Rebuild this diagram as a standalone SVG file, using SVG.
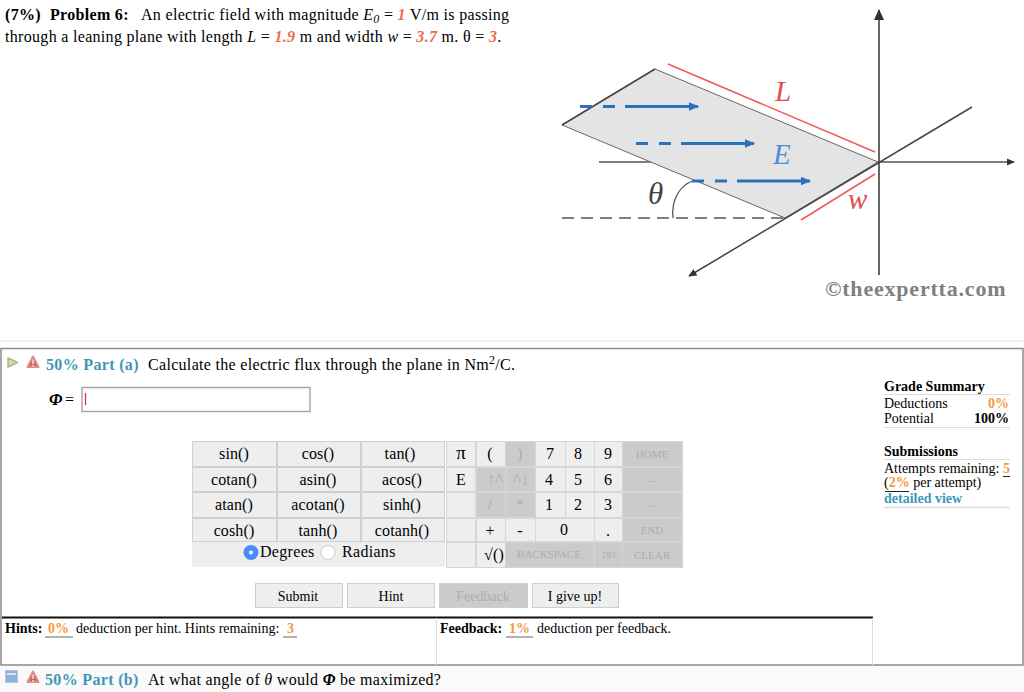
<svg xmlns="http://www.w3.org/2000/svg" width="1024" height="692" viewBox="0 0 1024 692">
<style>
text{font-family:"Liberation Serif","Times New Roman",serif;fill:#000}
.t{font-size:16px;letter-spacing:.31px}
.s{font-size:14px}
.o{fill:#f8983a;font-weight:bold}
.r{fill:#ee6a4d;font-weight:bold;font-style:italic}
.i{font-style:italic}
.b{font-weight:bold}
.p{fill:#3f97b8;font-weight:bold;font-size:16px;letter-spacing:.33px}
.k{font-size:16px;text-anchor:middle;letter-spacing:.12px}
.d{font-size:11px;text-anchor:middle;fill:#adadad}
.c{fill:#eeeeee}
.g{fill:#cbcbcb}
.ax{stroke:#555;stroke-width:1.5;fill:none}
.bl{stroke:#2a72bd;stroke-width:3;fill:none}
.rd{stroke:#ee5a5a;stroke-width:1.5;fill:none}
.rule{stroke:#ddd;stroke-width:1}
</style>
<defs>
<marker id="ah" markerWidth="8" markerHeight="8" refX="5" refY="2.500" orient="auto"><path d="M0,0L5.500,2.500L0,5z" fill="#333"/></marker>
<marker id="ab" markerWidth="5" markerHeight="5" refX="3" refY="1.400" orient="auto"><path d="M0,0L3.400,1.400L0,2.800z" fill="#2a72bd"/></marker>
</defs>
<rect width="1024" height="692" fill="#fff"/>
<g id="problem">
<text class="t b" x="5" y="20">(7%)</text>
<text class="t b" x="50" y="20">Problem 6:</text>
<text class="t" x="141" y="20">An electric field with magnitude <tspan class="i">E</tspan><tspan class="i" font-size="12" dy="3">0</tspan><tspan dy="-3"> = </tspan><tspan class="r">1</tspan> V/m is passing</text>
<text class="t" x="5" y="42">through a leaning plane with length <tspan class="i">L</tspan> = <tspan class="r">1.9</tspan> m and width <tspan class="i">w</tspan> = <tspan class="r">3.7</tspan> m. θ = <tspan class="r">3</tspan>.</text>
</g>
<g id="figure">
<path d="M599,162H660" class="ax"/>
<path d="M655,69L562,125L785,218L878,162Z" fill="#e5e4e4" stroke="#666" stroke-width="1"/>
<path d="M562,125L655,69" stroke="#444" stroke-width="1.5" fill="none"/>
<path d="M879,275V10" style="stroke:#666;stroke-width:2;fill:none" marker-end="url(#ah)"/>
<path d="M878,162H1014" class="ax" marker-end="url(#ah)"/>
<path d="M972,107L689,276" stroke="#444" stroke-width="1.5" fill="none" marker-end="url(#ah)"/>
<path d="M562,218H785" stroke="#555" stroke-width="1.3" stroke-dasharray="12,7" fill="none"/>
<path d="M673,218C671,200 680,185 693,181" stroke="#555" stroke-width="1.3" fill="none"/>
<path d="M668,64L875,152M875,174L801,220" class="rd"/>
<path d="M580,106.500H592M603,106.500H615M625,106.500H698" class="bl" marker-end="url(#ab)"/>
<path d="M636,143.500H648M659,143.500H671M681,143.500H754" class="bl" marker-end="url(#ab)"/>
<path d="M692,181H704M715,181H727M737,181H810" class="bl" marker-end="url(#ab)"/>
<text x="775" y="101" font-size="29" class="i" style="fill:#e24a4a">L</text>
<text x="773" y="164" font-size="29" class="i" style="fill:#4a8fcf">E</text>
<text x="848" y="209" font-size="29" class="i" style="fill:#e24a4a">w</text>
<text x="648" y="204" font-size="31" class="i" style="fill:#444">θ</text>
<text x="825" y="296" font-size="22" class="b" style="fill:#808080;letter-spacing:.8px">©theexpertta.com</text>
</g>
<path d="M0,341H1024" stroke="#e2e2e2" stroke-width="1"/>
<g id="part-a">
<rect x="1" y="348.500" width="1022" height="316.500" fill="none" stroke="#8a8a8a" stroke-width="1.500"/>
<path d="M8,358L17.500,362.500L8,367Z" fill="#cfe3a6" stroke="#a8b88a" stroke-width="1.500" stroke-linejoin="round"/>
<path d="M33,356.500L38.500,367H27.500Z" fill="#d9605c" stroke="#d98f8f" stroke-width="2" stroke-linejoin="round"/>
<path d="M33,359.500V364M33,365V366.500" stroke="#fff" stroke-width="1.200"/>
<text class="p" x="46" y="370">50% Part (a)</text>
<text class="t" x="148" y="370">Calculate the electric flux through the plane in Nm<tspan font-size="12" dy="-6">2</tspan><tspan dy="6">/C.</tspan></text>
<text class="i b" font-size="17" x="49" y="405">Φ</text><text class="t" x="65" y="405">=</text>
<rect x="82" y="387.500" width="228" height="24" fill="#fff" stroke="#a9a9a9" stroke-width="1.500"/>
<path d="M85.500,393V405" stroke="#e22" stroke-width="1.200"/>
</g>
<g id="functions">
<rect x="192" y="441" width="253" height="126" fill="#cfcfcf"/>
<rect class="c" x="193" y="442" width="83" height="24"/><rect class="c" x="278" y="442" width="82" height="24"/><rect class="c" x="362" y="442" width="82" height="24"/>
<rect class="c" x="193" y="468" width="83" height="23"/><rect class="c" x="278" y="468" width="82" height="23"/><rect class="c" x="362" y="468" width="82" height="23"/>
<rect class="c" x="193" y="493" width="83" height="24"/><rect class="c" x="278" y="493" width="82" height="24"/><rect class="c" x="362" y="493" width="82" height="24"/>
<rect class="c" x="193" y="519" width="83" height="22"/><rect class="c" x="278" y="519" width="82" height="22"/><rect class="c" x="362" y="519" width="82" height="22"/>
<rect class="c" x="192" y="542" width="253" height="25"/>
<text class="k" x="234" y="459">sin()</text><text class="k" x="318" y="459">cos()</text><text class="k" x="400" y="459">tan()</text>
<text class="k" x="234" y="485">cotan()</text><text class="k" x="318" y="485">asin()</text><text class="k" x="402" y="485">acos()</text>
<text class="k" x="234" y="510">atan()</text><text class="k" x="318" y="510">acotan()</text><text class="k" x="402" y="510">sinh()</text>
<text class="k" x="234" y="536">cosh()</text><text class="k" x="318" y="536">tanh()</text><text class="k" x="402" y="536">cotanh()</text>
<circle cx="251" cy="552.500" r="7.500" fill="#4a8cf7"/><circle cx="251" cy="552.500" r="2" fill="#fff"/>
<text class="t" x="260" y="557">Degrees</text>
<circle cx="328" cy="552.500" r="7" fill="#fff" stroke="#ccc"/>
<text class="t" x="342" y="557">Radians</text>
</g>
<g id="keypad">
<rect x="446" y="441" width="237" height="127" fill="#d6d6d6"/>
<rect class="c" x="447" y="442" width="28" height="24"/><rect class="c" x="477" y="442" width="28" height="24"/><rect class="g" x="506" y="442" width="29" height="24"/><rect class="c" x="536" y="442" width="29" height="24"/><rect class="c" x="566" y="442" width="28" height="24"/><rect class="c" x="595" y="442" width="27" height="24"/><rect class="g" x="623" y="442" width="59" height="24"/>
<rect class="c" x="447" y="468" width="28" height="23"/><rect class="g" x="477" y="468" width="28" height="23"/><rect class="g" x="506" y="468" width="29" height="23"/><rect class="c" x="536" y="468" width="29" height="23"/><rect class="c" x="566" y="468" width="28" height="23"/><rect class="c" x="595" y="468" width="27" height="23"/><rect class="g" x="623" y="468" width="59" height="23"/>
<rect class="c" x="447" y="493" width="28" height="24"/><rect class="g" x="477" y="493" width="28" height="24"/><rect class="g" x="506" y="493" width="29" height="24"/><rect class="c" x="536" y="493" width="29" height="24"/><rect class="c" x="566" y="493" width="28" height="24"/><rect class="c" x="595" y="493" width="27" height="24"/><rect class="g" x="623" y="493" width="59" height="24"/>
<rect class="c" x="447" y="519" width="28" height="22"/><rect class="c" x="477" y="519" width="28" height="22"/><rect class="c" x="506" y="519" width="29" height="22"/><rect class="c" x="536" y="519" width="58" height="22"/><rect class="c" x="595" y="519" width="27" height="22"/><rect class="g" x="623" y="519" width="59" height="22"/>
<rect class="c" x="447" y="543" width="28" height="24"/><rect class="c" x="477" y="543" width="28" height="24"/><rect class="g" x="506" y="543" width="88" height="24"/><rect class="g" x="595" y="543" width="27" height="24"/><rect class="g" x="623" y="543" width="59" height="24"/>
<text class="k" x="461" y="459" style="font-size:19px">π</text><text class="k" x="490" y="459">(</text><text class="k" x="520" y="459" style="fill:#adadad">)</text><text class="k" x="550" y="459">7</text><text class="k" x="578" y="459">8</text><text class="k" x="608" y="459">9</text><text class="d" x="652" y="458">HOME</text>
<text class="k" x="461" y="485">E</text><text class="k" x="495" y="485" style="fill:#adadad;font-size:17px">↑^</text><text class="k" x="521" y="485" style="fill:#adadad;font-size:17px">^↓</text><text class="k" x="549" y="485">4</text><text class="k" x="578" y="485">5</text><text class="k" x="608" y="485">6</text><text class="d" x="652" y="483">←</text>
<text class="k" x="490" y="510" style="fill:#adadad">/</text><text class="k" x="520" y="510" style="fill:#adadad">*</text><text class="k" x="549" y="510">1</text><text class="k" x="578" y="510">2</text><text class="k" x="608" y="510">3</text><text class="d" x="652" y="508">→</text>
<text class="k" x="490" y="536">+</text><text class="k" x="520" y="536">-</text><text class="k" x="564" y="535">0</text><text class="k" x="608" y="536">.</text><text class="d" x="652" y="534">END</text>
<text class="k" x="494" y="560">√()</text><text class="d" x="549" y="558">BACKSPACE</text><text class="d" x="610" y="558" style="font-size:8px">DEL</text><text class="d" x="652" y="559">CLEAR</text>
</g>
<g id="grade-summary">
<text class="s b" x="884" y="391">Grade Summary</text>
<path d="M884,394.500H1010M884,427.500H1010M884,459.500H1010" class="rule"/>
<path d="M884,507.500H1010" stroke="#ddd" stroke-width="1.500"/>
<text class="s" x="884" y="408">Deductions</text><text class="s o" x="1009" y="408" text-anchor="end">0%</text>
<text class="s" x="884" y="423">Potential</text><text class="s b" x="1009" y="423" text-anchor="end">100%</text>
<text class="s b" x="884" y="456">Submissions</text>
<text class="s" x="884" y="473">Attempts remaining: <tspan class="o">5</tspan></text>
<text class="s" x="884" y="487">(<tspan class="o">2%</tspan> per attempt)</text>
<path d="M1003,476.500H1010M885,491.500H909" stroke="#222" stroke-width="1"/>
<text class="s b" x="884" y="503" style="fill:#3f97b8">detailed view</text>
</g>
<g id="buttons">
<rect class="c" x="255.500" y="583.500" width="87" height="24" stroke="#cfcfcf"/><text class="s" x="298" y="601" text-anchor="middle">Submit</text>
<rect class="c" x="347.500" y="583.500" width="87" height="24" stroke="#cfcfcf"/><text class="s" x="391" y="601" text-anchor="middle">Hint</text>
<rect class="g" x="439.500" y="583.500" width="88" height="24" stroke="#cfcfcf"/><text class="s" x="483" y="601" text-anchor="middle" style="fill:#adadad">Feedback</text>
<rect class="c" x="532.500" y="583.500" width="86" height="24" stroke="#cfcfcf"/><text class="s" x="575" y="601" text-anchor="middle">I give up!</text>
</g>
<g id="hints">
<path d="M2,617.500H873" stroke="#111" stroke-width="2"/>
<path d="M436.500,618V665M872.500,618V665" stroke="#ddd" stroke-width="1"/>
<text class="s b" x="5" y="633">Hints:</text>
<text class="s o" x="48" y="633">0%</text>
<path d="M45,637H73M283,637H297" stroke="#666" stroke-width="1"/>
<text class="s" x="76" y="633">deduction per hint. Hints remaining:</text>
<text class="s o" x="287" y="633">3</text>
<text class="s b" x="440" y="633">Feedback:</text>
<text class="s o" x="509" y="633">1%</text>
<path d="M506,637H533" stroke="#666" stroke-width="1"/>
<text class="s" x="537" y="633">deduction per feedback.</text>
</g>
<g id="part-b">
<rect x="0" y="666" width="1024" height="26" fill="#fafafa"/>
<rect x="5.500" y="670.500" width="12" height="12" fill="#8fb1d8" stroke="#b5c6da"/>
<rect x="7" y="673" width="9" height="2" fill="#dbe5f0"/>
<path d="M33,671.500L38.500,682H27.500Z" fill="#d9605c" stroke="#d98f8f" stroke-width="2" stroke-linejoin="round"/>
<path d="M33,674.500V679M33,680V681.500" stroke="#fff" stroke-width="1.200"/>
<text class="p" x="45" y="685">50% Part (b)</text>
<text class="t" x="148" y="685">At what angle of <tspan class="i">θ</tspan> would <tspan class="i b">Φ</tspan> be maximized?</text>
</g>
</svg>
